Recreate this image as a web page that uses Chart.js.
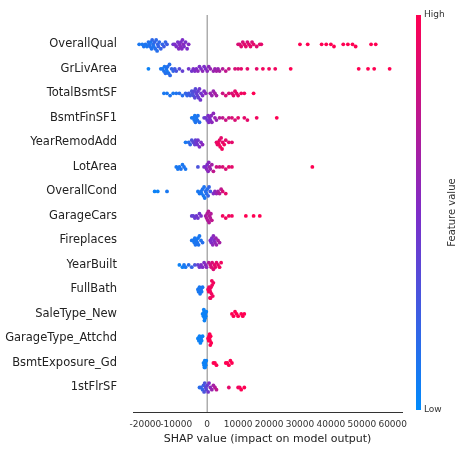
<!DOCTYPE html>
<html><head><meta charset="utf-8">
<script src="https://cdn.jsdelivr.net/npm/chart.js@4/dist/chart.umd.min.js"></script>
<style>html,body{margin:0;padding:0;background:#fff}#w{width:474px;height:458px}</style>
</head><body><div id="w"><canvas id="c"></canvas></div>
<script>
const features=["OverallQual","GrLivArea","TotalBsmtSF","BsmtFinSF1","YearRemodAdd","LotArea","OverallCond","GarageCars","Fireplaces","YearBuilt","FullBath","SaleType_New","GarageType_Attchd","BsmtExposure_Gd","1stFlrSF"];
const xTicks=[-20000,-10000,0,10000,20000,30000,40000,50000,60000];
// SHAP values (thousands) and feature values (0-1) per feature
const shapOverallQual=[-22,-21,-20.5,-20,-19.5,-19,-18.8,-18.5,-18.2,-18,-17.8,-17.5,-17.3,-17,-16.8,-16.5,-16.2,-16,-15.8,-15.5,-15,-14.5,-14,-13.5,-13,-11,-10.5,-10,-9.5,-9.2,-9,-8.7,-8.5,-8.2,-8,-7.7,-7.5,-7,-6.5,-6,10,10.5,11,11.5,12,12.5,13,13.5,14,14.5,15,16,17,17.5,30,32.5,37,38.5,40,41,44,45.5,47,48,53,54.5];
const fvOverallQual=[.1,.1,.12,.12,.1,.15,.12,.15,.1,.12,.18,.15,.12,.2,.15,.18,.15,.2,.2,.18,.22,.2,.25,.2,.25,.45,.5,.5,.48,.52,.5,.55,.5,.52,.5,.55,.5,.48,.5,.52,.85,.85,.88,.85,.88,.9,.85,.88,.9,.85,.9,.88,.9,.9,1,1,1,1,1,1,1,1,1,1,1,1];
const shapGrLivArea=[-19,-15,-14.5,-14,-13.8,-13.5,-13.2,-13,-12.8,-12.5,-12.2,-12,-11.5,-11,-10.5,-10,-9,-8,-6,-5,-4.5,-4,-3.5,-3,-2.5,-2,-1.5,-1,-0.5,0,0.5,1,2,2.5,3,3.5,4,5,6,7,9,10,11,13,16,18,20,22,27,49,52,54,59];
const fvGrLivArea=[.05,.1,.1,.12,.1,.15,.12,.1,.15,.12,.15,.18,.2,.2,.25,.3,.35,.4,.45,.45,.5,.5,.5,.55,.5,.5,.55,.5,.5,.55,.55,.6,.6,.6,.65,.6,.65,.7,.75,.8,.85,.85,.9,.9,.9,.95,.95,.95,1,1,1,1,1];
const shapTotalBsmtSF=[-14,-13,-12,-11,-10,-9,-8,-7,-6.5,-6,-5.5,-5,-4.8,-4.5,-4.2,-4,-3.8,-3.5,-3.2,-3,-2.8,-2.5,-2.2,-2,-1.5,-1,-0.5,1,1.5,2,2.5,3,5,6,7,8,8.5,9,9.5,10,11,12,15];
const fvTotalBsmtSF=[.1,.1,.12,.1,.12,.15,.15,.2,.2,.25,.25,.3,.3,.3,.35,.35,.35,.4,.4,.4,.4,.45,.45,.45,.5,.5,.55,.6,.6,.6,.65,.65,.8,.85,.85,.85,.9,.9,.9,.9,.95,.95,1];
const shapBsmtFinSF1=[-5,-4.5,-4.2,-4,-3.8,-3.5,-3.2,-3,-2.5,-1,-0.5,0,0.3,0.5,0.8,1,1.3,1.5,2,2.5,3,4,5,6,7,8,9,10,12,13,16,22.5];
const fvBsmtFinSF1=[.1,.1,.1,.1,.12,.1,.12,.12,.15,.4,.45,.45,.5,.5,.5,.5,.55,.55,.55,.6,.6,.7,.75,.8,.8,.85,.85,.9,.9,.9,.95,1];
const shapYearRemodAdd=[-7,-6,-5.5,-5,-4.5,-4,-3.8,-3.5,-3.2,-3,-2.5,-2,-1.5,3,3.3,3.5,3.8,4,4.2,4.5,4.8,5,5.5,6,7,8];
const fvYearRemodAdd=[.1,.15,.2,.3,.35,.4,.4,.45,.45,.45,.5,.5,.55,.9,.9,.95,.95,.9,.95,.9,.95,.9,.95,.9,.9,.9];
const shapLotArea=[-10,-9.5,-9,-8.5,-8,-7.5,-7,-3,-1,-0.5,-0.2,0,0.3,0.5,0.8,1,1.5,2,3,4,5,6,7,8,34];
const fvLotArea=[.1,.1,.1,.12,.1,.12,.1,.3,.5,.5,.55,.5,.55,.55,.6,.6,.65,.75,.8,.8,.85,.85,.9,.9,1];
const shapOverallCond=[-17,-16,-13,-3,-2.5,-2,-1.8,-1.5,-1.2,-1,-0.8,-0.5,-0.2,0,0.3,0.6,1,2,2.5,3,3.5,4,4.5,5,6];
const fvOverallCond=[.05,.05,.1,.1,.1,.12,.1,.12,.1,.12,.1,.15,.15,.15,.2,.2,.25,.5,.55,.6,.65,.7,.75,.85,.9];
const shapGarageCars=[-5,-4.5,-4,-3.5,-3,-2.5,-2,-0.5,-0.2,0,0.2,0.4,0.6,0.8,1,1.2,1.5,5,6,7,8,12.5,15,17];
const fvGarageCars=[.4,.4,.42,.45,.45,.45,.5,.65,.7,.7,.7,.72,.7,.72,.7,.7,.75,.95,.95,.95,.95,1,1,1];
const shapFireplaces=[-5,-4.5,-4.2,-4,-3.8,-3.5,-3.2,-3,-2.8,-2.5,-2,-1.5,1,1.3,1.5,1.8,2,2.2,2.5,2.8,3,3.5,4];
const fvFireplaces=[.1,.1,.1,.1,.12,.1,.12,.1,.12,.1,.12,.15,.5,.5,.5,.55,.55,.5,.55,.6,.6,.65,.65];
const shapYearBuilt=[-9,-8,-7.5,-7,-6,-5,-4,-3,-2.5,-2,-1.5,-1,-0.5,-0.2,0.5,1,1.3,1.6,2,2.3,2.6,3,3.5,4,4.5];
const fvYearBuilt=[.05,.05,.1,.1,.15,.2,.3,.4,.45,.5,.5,.5,.55,.55,.7,.8,.85,.85,.85,.9,.9,.9,.9,.95,.95];
const shapFullBath=[-3,-2.8,-2.5,-2.3,-2,-1.8,-1.5,0.3,0.5,0.8,1,1.2,1.4,1.6,1.8,2,0.6,1.1,1.5,0.9];
const fvFullBath=[.1,.1,.1,.1,.1,.1,.1,.95,.95,.95,.95,.95,.95,.95,.95,.95,.95,.95,.95,.95];
const shapSaleType_New=[-1.5,-1.2,-1,-0.8,-0.6,-0.5,-0.3,-1.1,-0.7,-0.9,8,8.5,9,9.5,10,11,11.5,12];
const fvSaleType_New=[.05,.05,.05,.05,.05,.05,.05,.05,.05,.05,1,1,1,1,1,1,1,1];
const shapGarageType_Attchd=[-3,-2.7,-2.5,-2.2,-2,-1.8,-1.5,0.3,0.5,0.7,0.9,1.1,1.3,0.6,0.8,1];
const fvGarageType_Attchd=[.05,.05,.05,.05,.05,.05,.05,1,1,1,1,1,1,1,1,1];
const shapBsmtExposure_Gd=[-1.2,-1,-0.8,-0.6,-0.5,-0.3,-0.9,-0.7,2,2.5,3,6,6.5,7,7.5,8];
const fvBsmtExposure_Gd=[.05,.05,.05,.05,.05,.05,.05,.05,1,1,1,1,1,1,1,1];
const shapFirstFlrSF=[-2.5,-2,-1.5,-1.2,-1,-0.8,-0.5,-0.3,0,0.3,0.6,1,1.5,2,2.5,3,7,10,10.5,11,12];
const fvFirstFlrSF=[.15,.2,.2,.25,.3,.3,.35,.35,.4,.45,.5,.55,.6,.65,.7,.75,.9,.95,.95,1,1];
const shapLists=[shapOverallQual,shapGrLivArea,shapTotalBsmtSF,shapBsmtFinSF1,shapYearRemodAdd,shapLotArea,shapOverallCond,shapGarageCars,shapFireplaces,shapYearBuilt,shapFullBath,shapSaleType_New,shapGarageType_Attchd,shapBsmtExposure_Gd,shapFirstFlrSF];
const fvLists=[fvOverallQual,fvGrLivArea,fvTotalBsmtSF,fvBsmtFinSF1,fvYearRemodAdd,fvLotArea,fvOverallCond,fvGarageCars,fvFireplaces,fvYearBuilt,fvFullBath,fvSaleType_New,fvGarageType_Attchd,fvBsmtExposure_Gd,fvFirstFlrSF];

function col(t){const a=[0,139,251],b=[255,0,82];const m=[126,45,200];
 let c; if(t<.5){const u=t/.5;c=a.map((v,i)=>v+(m[i]-v)*u);}else{const u=(t-.5)/.5;c=m.map((v,i)=>v+(b[i]-v)*u);}
 return `rgb(${c.map(Math.round).join(',')})`;}
const pts=[],cols=[];
shapLists.forEach((arr,row)=>{
 const bins={};
 arr.forEach((s,i)=>{const x=s*1000;const b=Math.round(x/1400);const k=bins[b]=(bins[b]||0)+1;
  const off=(k===1?0:(k%2?-1:1)*Math.floor(k/2)*0.09);
  pts.push({x:x,y:row+Math.max(-0.35,Math.min(0.35,off))});cols.push(col(fvLists[row][i]));});
});
const colorbar={id:'cb',afterDraw(ch){const c=ch.ctx;const t=15,b=410;
 const g=c.createLinearGradient(0,b,0,t);g.addColorStop(0,col(0));g.addColorStop(.5,col(.5));g.addColorStop(1,col(1));
 c.save();c.fillStyle=g;c.fillRect(416,t,5,b-t);c.fillStyle='#333';c.font='9px "DejaVu Sans"';c.textAlign='left';c.textBaseline='middle';
 c.fillText('High',424,t);c.fillText('Low',424,b);c.translate(452,(t+b)/2);c.rotate(-Math.PI/2);c.textAlign='center';c.font='10px "DejaVu Sans"';c.fillText('Feature value',0,0);c.restore();}};
const zeroLine={id:'zl',beforeDatasetsDraw(ch){const c=ch.ctx,a=ch.chartArea,x=ch.scales.x.getPixelForValue(0);c.save();c.strokeStyle='#999';c.lineWidth=1.2;c.beginPath();c.moveTo(x,a.top);c.lineTo(x,a.bottom);c.stroke();c.restore();}};
new Chart(document.getElementById('c'),{type:'scatter',
 data:{datasets:[{data:pts,pointBackgroundColor:cols,pointBorderWidth:0,pointRadius:1.9}]},
 options:{responsive:true,maintainAspectRatio:false,animation:false,
  layout:{padding:{left:0,right:72,top:12,bottom:8}},
  plugins:{legend:{display:false},tooltip:{enabled:false}},
  scales:{
   x:{type:'linear',min:-24000,max:63000,afterBuildTicks(s){s.ticks=xTicks.map(v=>({value:v}));},
    grid:{display:false,drawTicks:true,tickLength:4},border:{color:'#333'},
    ticks:{color:'#333',font:{size:9,family:'DejaVu Sans'},maxRotation:0,autoSkip:false,callback:(v)=>String(v)},
    title:{display:true,text:'SHAP value (impact on model output)',color:'#222',font:{size:11,family:'DejaVu Sans'},padding:{top:0}}},
   y:{type:'linear',reverse:true,min:-1.2,max:15.0,afterBuildTicks(s){s.ticks=features.map((f,i)=>({value:i}));},
    grid:{display:false},border:{display:false},
    ticks:{color:'#222',font:{size:11.5,family:'DejaVu Sans'},autoSkip:false,padding:8,callback:(v)=>features[v]||''},
    afterFit(s){s.width=133;}}
  }},plugins:[zeroLine,colorbar]});
</script></body></html>
